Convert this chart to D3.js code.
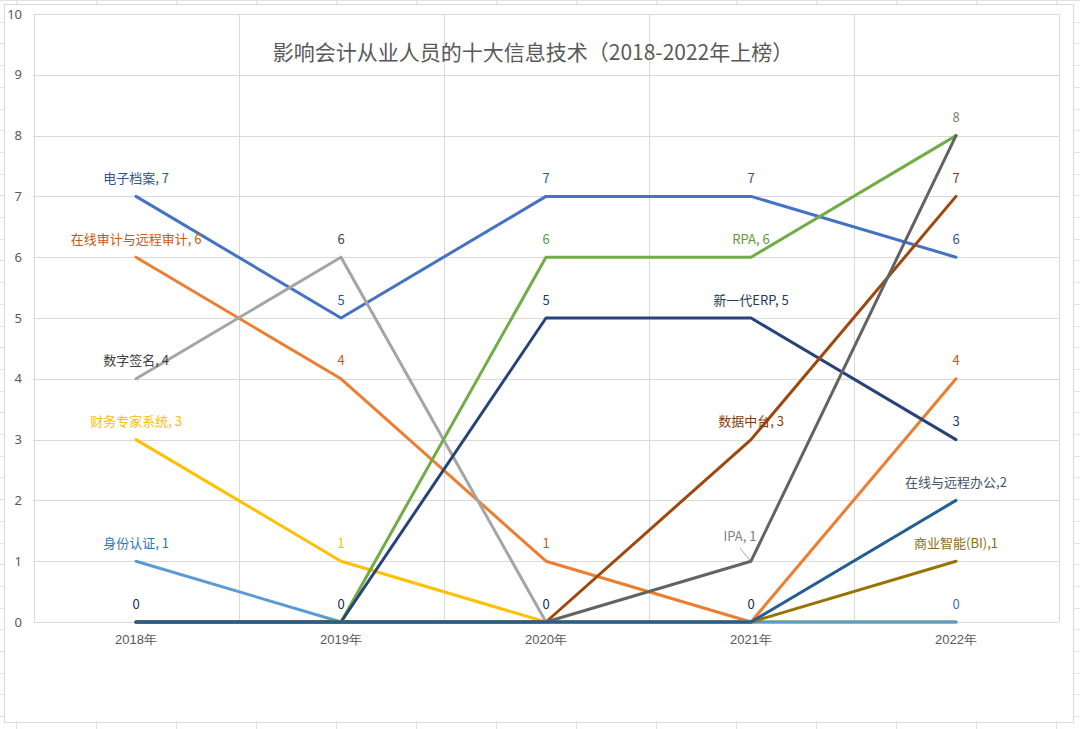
<!DOCTYPE html>
<html>
<head>
<meta charset="utf-8">
<script src="https://cdn.jsdelivr.net/npm/d3@7"></script>
<style>
  body { margin: 0; background: #fff; }
  svg { display: block; font-family: "Noto Sans CJK SC", "Noto Sans", sans-serif; }
</style>
</head>
<body>
<div id="chart"></div>
<script>
// Line chart: top ten IT topics for accountants, 2018-2022

const CHART_TITLE = "影响会计从业人员的十大信息技术（2018-2022年上榜）";

// categories on the x axis
const years = ["2018年", "2019年", "2020年", "2021年", "2022年"];
// y axis ticks
const yTicks = [0, 1, 2, 3, 4, 5, 6, 7, 8, 9, 10];

// series names (Excel series order)
const seriesNames = ["电子档案", "在线审计与远程审计", "数字签名", "财务专家系统", "身份认证",
    "RPA", "新一代ERP", "数据中台", "IPA", "商业智能(BI)", "在线与远程办公"];

// series values, one per year
const eArchive     = [7, 5, 7, 7, 6];
const onlineAudit  = [6, 4, 1, 0, 4];
const digitalSign  = [4, 6, 0, 0, 0];
const expertSystem = [3, 1, 0, 0, 0];
const identityAuth = [1, 0, 0, 0, 0];
const rpa          = [0, 0, 6, 6, 8];
const newErp       = [0, 0, 5, 5, 3];
const dataMiddle   = [0, 0, 0, 3, 7];
const ipa          = [0, 0, 0, 1, 8];
const bi           = [0, 0, 0, 0, 1];
const remoteOffice = [0, 0, 0, 0, 2];

const seriesValues = [eArchive, onlineAudit, digitalSign, expertSystem, identityAuth,
    rpa, newErp, dataMiddle, ipa, bi, remoteOffice];

// data labels: [series index, year index, text]
const pointLabels = [
    [0, 0, "电子档案, 7"], [1, 0, "在线审计与远程审计, 6"], [2, 0, "数字签名, 4"],
    [3, 0, "财务专家系统, 3"], [4, 0, "身份认证, 1"], [10, 0, "0"],
    [2, 1, "6"], [0, 1, "5"], [1, 1, "4"], [3, 1, "1"], [10, 1, "0"],
    [0, 2, "7"], [5, 2, "6"], [6, 2, "5"], [1, 2, "1"], [10, 2, "0"],
    [0, 3, "7"], [5, 3, "RPA, 6"], [6, 3, "新一代ERP, 5"], [7, 3, "数据中台, 3"], [8, 3, "IPA, 1"], [10, 3, "0"],
    [8, 4, "8"], [7, 4, "7"], [0, 4, "6"], [1, 4, "4"], [6, 4, "3"],
    [10, 4, "在线与远程办公,2"], [9, 4, "商业智能(BI),1"], [4, 4, "0"]
];

// Excel default palette for lines, darker shades for the labels
const lineColors = ["#4472C4", "#ED7D31", "#A5A5A5", "#FFC000", "#5B9BD5",
    "#70AD47", "#264478", "#9E480E", "#636363", "#997300", "#255E91"];
const labelColors = ["#2F5597", "#C55A11", "#404040", "#FFC000", "#2E75B6",
    "#5E9A3A", "#1F3864", "#843C0C", "#7F7F7F", "#8C6D12", "#44546A"];

const W = 1080, H = 729;
// plot area
const plot = {left: 33.5, right: 1058.5, top: 14, bottom: 622};

const svg = d3.select("#chart")
    .append("svg")
    .attr("width", W)
    .attr("height", H);

// 1. spreadsheet cells behind the chart
const sheet = svg.append("g").attr("stroke", "#E1E1E1").attr("stroke-width", 1);
sheet.selectAll("line.col")
    .data(d3.range(16, W, 80))
    .join("line")
    .attr("x1", d => d + 0.5).attr("x2", d => d + 0.5)
    .attr("y1", 0).attr("y2", H);
sheet.selectAll("line.row")
    .data(d3.range(0, H, 21.7))
    .join("line")
    .attr("x1", 0).attr("x2", W)
    .attr("y1", d => Math.round(d) + 0.5).attr("y2", d => Math.round(d) + 0.5);

// 2. chart area
svg.append("rect")
    .attr("x", 4.5).attr("y", 4.5)
    .attr("width", 1069).attr("height", 718)
    .attr("fill", "#fff")
    .attr("stroke", "#D9D9D9");

// 3. scales
const x = d3.scaleBand()
    .domain(years)
    .range([plot.left, plot.right]);
const cx = d => x(d) + x.bandwidth() / 2;

const y = d3.scaleLinear()
    .domain([0, 10])
    .range([plot.bottom, plot.top]);

// 4. gridlines
svg.append("g")
    .selectAll("line")
    .data(yTicks)
    .join("line")
    .attr("x1", plot.left).attr("x2", plot.right)
    .attr("y1", d => Math.round(y(d)) + 0.5).attr("y2", d => Math.round(y(d)) + 0.5)
    .attr("stroke", "#D9D9D9");

const bounds = years.map(d => x(d)).concat([x(years[years.length - 1]) + x.bandwidth()]);
svg.append("g")
    .selectAll("line")
    .data(bounds)
    .join("line")
    .attr("x1", d => Math.round(d) + 0.5).attr("x2", d => Math.round(d) + 0.5)
    .attr("y1", plot.top).attr("y2", plot.bottom)
    .attr("stroke", "#D9D9D9");

// 5. axes (labels only, Excel style)
const yAxis = svg.append("g")
    .attr("transform", `translate(22,0)`)
    .call(d3.axisLeft(y).tickValues(yTicks).tickSize(0).tickPadding(0));
yAxis.select(".domain").remove();
yAxis.selectAll("text")
    .attr("fill", "#595959")
    .style("font-size", "13px")
    .style("font-family", "'Noto Sans', sans-serif");

const xAxis = svg.append("g")
    .attr("transform", `translate(0,${plot.bottom})`)
    .call(d3.axisBottom(x).tickSize(0).tickPadding(13));
xAxis.select(".domain").remove();
xAxis.selectAll("text")
    .attr("fill", "#595959")
    .style("font-size", "13px");

// 6. title
svg.append("text")
    .attr("x", 533)
    .attr("y", 51)
    .attr("text-anchor", "middle")
    .attr("dominant-baseline", "central")
    .attr("fill", "#595959")
    .style("font-size", "21px")
    .text(CHART_TITLE);

// 7. lines
const line = d3.line()
    .x((d, i) => cx(years[i]))
    .y(d => y(d));

svg.append("g")
    .selectAll("path")
    .data(seriesValues)
    .join("path")
    .attr("d", d => line(d))
    .attr("fill", "none")
    .attr("stroke", (d, i) => lineColors[i])
    .attr("stroke-width", 3)
    .attr("stroke-linejoin", "round")
    .attr("stroke-linecap", "round");

// 8. data labels
const labelG = svg.append("g");
pointLabels.forEach(([s, yi, txt]) => {
    const px = cx(years[yi]);
    const py = y(seriesValues[s][yi]);
    // IPA label is pulled up-left with a leader line
    const moved = txt.startsWith("IPA");
    const dx = moved ? -11 : 0;
    const dy = moved ? -26 : -19;
    let color = labelColors[s];
    if (txt === "0" && yi < 4) color = "#1F2D4D";

    if (moved) {
        labelG.append("line")
            .attr("x1", px - 11).attr("y1", py - 13)
            .attr("x2", px - 1).attr("y2", py - 1)
            .attr("stroke", "#A6A6A6")
            .attr("stroke-width", 1);
    }
    labelG.append("text")
        .attr("x", px + dx)
        .attr("y", py + dy)
        .attr("text-anchor", "middle")
        .attr("dominant-baseline", "central")
        .attr("fill", color)
        .style("font-size", "13px")
        .text(txt);
});
</script>
</body>
</html>
